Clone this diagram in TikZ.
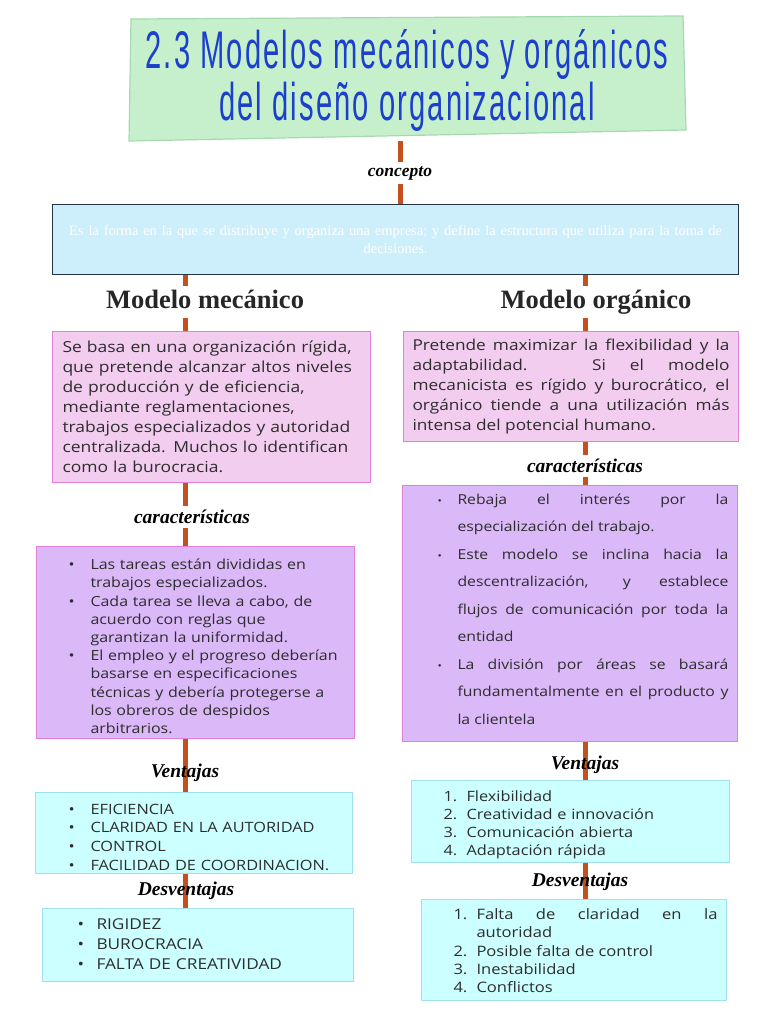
\documentclass[tikz,border=0pt]{standalone}
\usepackage{fontspec}
\usepackage{enumitem}
\setmainfont{Liberation Serif}
\newfontfamily\titlefont[FakeStretch=0.55,LetterSpace=4]{Liberation Sans}
\newfontfamily\bodyfont[FakeStretch=1.15]{Open Sans}
\definecolor{conn}{RGB}{196,80,30}
\definecolor{ttlfill}{RGB}{197,240,203}
\definecolor{ttledge}{RGB}{166,217,173}
\definecolor{ttltext}{RGB}{28,63,206}
\definecolor{cfill}{RGB}{205,238,251}
\definecolor{cedge}{RGB}{36,52,68}
\definecolor{pinkfill}{RGB}{242,205,240}
\definecolor{pinkedge}{RGB}{226,127,216}
\definecolor{purfill}{RGB}{219,184,248}
\definecolor{cyanfill}{RGB}{204,255,255}
\definecolor{cyanedge}{RGB}{159,223,240}
\definecolor{bodytext}{RGB}{45,45,45}
\tikzset{
  connline/.style={draw=conn, line width=5pt},
  box/.style={anchor=north west, inner xsep=10pt, inner ysep=0pt, line width=1pt,
     text=bodytext, font=\bodyfont\fontsize{15}{20}\selectfont},
  pinkbox/.style={box, fill=pinkfill, draw=pinkedge},
  purbox/.style={box, fill=purfill, draw=pinkedge},
  cyanbox/.style={box, fill=cyanfill, draw=cyanedge},
  heading/.style={font=\bfseries\fontsize{26.5}{26.5}\selectfont, text=black!85, fill=white,
     inner sep=4pt, text height=18pt, text depth=6pt},
  lbl/.style={font=\bfseries\itshape\fontsize{19.5}{19.5}\selectfont, text=black, inner sep=3pt},
  lblw/.style={lbl, fill=white, inner sep=4pt},
}
\begin{document}
\begin{tikzpicture}[x=1pt,y=-1pt]
\useasboundingbox (0,0) rectangle (768,1024);
% title box
\filldraw[fill=ttlfill, draw=ttledge, line width=1.2pt]
  (131,19) -- (683,16) -- (686,130) -- (129,141) -- cycle;
\node[minimum width=555pt, minimum height=122pt, inner sep=0pt, align=center,
      text=ttltext, font=\titlefont\fontsize{53}{52}\selectfont] (title) at (407,80)
  {2.3 Modelos mecánicos y orgánicos\\del diseño organizacional};
\coordinate (cx) at (400,0);
\coordinate (lx) at (185,0);
\coordinate (rx) at (585,0);
% concept
\node[lblw, font=\bfseries\itshape\fontsize{17.5}{17.5}\selectfont] (concepto) at (400,173) {concepto};
\node[anchor=north west, minimum width=686pt, minimum height=70pt, text width=670pt,
      inner xsep=8pt, inner ysep=0pt, align=center, fill=cfill, draw=cedge, line width=1.2pt,
      text=white, font=\fontsize{14.5}{18}\selectfont] (cbox) at (52,204)
  {Es la forma en la que se distribuye y organiza una empresa; y define la estructura que utiliza para la toma de\\decisiones.};
% headings
\node[heading] (mmec) at (205,302) {Modelo mecánico};
\node[heading] (morg) at (596,302) {Modelo orgánico};
% left column
\node[pinkbox, minimum width=318pt, minimum height=151pt, text width=298pt, align=left,
      font=\bodyfont\fontsize{15.2}{20}\selectfont] (lp) at (52,331)
  {Se basa en una organización rígida,\\que pretende alcanzar altos niveles\\de producción y de eficiencia,\\mediante reglamentaciones,\\trabajos especializados y autoridad\\centralizada. Muchos lo identifican\\como la burocracia.};
\node[lblw] (lcar) at (192,517) {características};
\node[purbox, minimum width=318pt, minimum height=192pt, text width=298pt, align=left,
      font=\bodyfont\fontsize{13.9}{18.2}\selectfont] (lpur) at (36,546)
  {\begin{itemize}[nosep, leftmargin=44pt, labelwidth=22pt, labelsep=0pt, align=left, label={\textbullet}]
   \item Las tareas están divididas en\\trabajos especializados.
   \item Cada tarea se lleva a cabo, de\\acuerdo con reglas que\\garantizan la uniformidad.
   \item El empleo y el progreso deberían\\basarse en especificaciones\\técnicas y debería protegerse a\\los obreros de despidos\\arbitrarios.
   \end{itemize}};
\node[cyanbox, minimum width=317pt, minimum height=81pt, text width=297pt, align=left,
      font=\bodyfont\fontsize{14.2}{18.7}\selectfont] (lvb) at (35,792)
  {\begin{itemize}[nosep, leftmargin=45pt, labelwidth=22pt, labelsep=0pt, align=left, label={\textbullet}]
   \item EFICIENCIA
   \item CLARIDAD EN LA AUTORIDAD
   \item CONTROL
   \item \mbox{FACILIDAD DE COORDINACION.}
   \end{itemize}};
\node[cyanbox, minimum width=311pt, minimum height=73pt, text width=291pt, align=left,
      font=\bodyfont\fontsize{15}{20}\selectfont] (ldb) at (42,908)
  {\begin{itemize}[nosep, leftmargin=44pt, labelwidth=19pt, labelsep=0pt, align=left, label={\textbullet}]
   \item RIGIDEZ
   \item BUROCRACIA
   \item FALTA DE CREATIVIDAD
   \end{itemize}\vspace*{10pt}};
% right column
\node[pinkbox, minimum width=335pt, minimum height=110pt, inner xsep=9pt, text width=317pt, align=justify,
      font=\bodyfont\fontsize{15}{20}\selectfont] (rp) at (403,331)
  {Pretende maximizar la flexibilidad y la\linebreak adaptabilidad. Si el modelo\linebreak mecanicista es rígido y burocrático, el\linebreak orgánico tiende a una utilización más\linebreak intensa del potencial humano.};
\node[lblw] (rcar) at (585,466) {características};
\node[purbox, minimum width=335pt, minimum height=256pt, inner xsep=9pt,
      font=\bodyfont\fontsize{13.7}{27.5}\selectfont] (rpur) at (402,485)
  {\parbox[c][240pt][t]{317pt}{\begin{itemize}[nosep, leftmargin=46pt, labelwidth=20pt, labelsep=0pt, align=left, label={\fontsize{10}{10}\selectfont\textbullet}]
   \item Rebaja el interés por la\linebreak especialización del trabajo.
   \item Este modelo se inclina hacia la\linebreak descentralización, y establece\linebreak flujos de comunicación por toda la\linebreak entidad
   \item La división por áreas se basará\linebreak fundamentalmente en el producto y\linebreak la clientela
   \end{itemize}}};
\node[cyanbox, minimum width=318pt, minimum height=82pt, inner xsep=9pt, text width=300pt, align=left,
      font=\bodyfont\fontsize{14.2}{18}\selectfont] (rvb) at (411,780)
  {\begin{enumerate}[nosep, leftmargin=46pt, labelwidth=23pt, labelsep=0pt, align=left, label={\arabic*.}]
   \item Flexibilidad
   \item Creatividad e innovación
   \item Comunicación abierta
   \item Adaptación rápida
   \end{enumerate}};
\node[cyanbox, minimum width=305pt, minimum height=101pt, inner xsep=9pt, text width=287pt, align=justify,
      font=\bodyfont\fontsize{14.4}{18.3}\selectfont] (rdb) at (421,899)
  {\begin{enumerate}[nosep, leftmargin=46pt, labelwidth=23pt, labelsep=0pt, align=left, label={\arabic*.}]
   \item Falta de claridad en la\linebreak autoridad
   \item Posible falta de control
   \item Inestabilidad
   \item Conflictos
   \end{enumerate}\vspace*{6pt}};
% connectors
\draw[connline] (title.south -| cx) -- (concepto.north -| cx);
\draw[connline] (concepto.south -| cx) -- (cbox.north -| cx);
\draw[connline] (cbox.south -| lx) -- (mmec.north -| lx);
\draw[connline] (mmec.south -| lx) -- (lp.north -| lx);
\draw[connline] (lp.south -| lx) -- (lcar.north -| lx);
\draw[connline] (lcar.south -| lx) -- (lpur.north -| lx);
\draw[connline] (lpur.south -| lx) -- (lvb.north -| lx);
\draw[connline] (lvb.south -| lx) -- (ldb.north -| lx);
\draw[connline] (cbox.south -| rx) -- (morg.north -| rx);
\draw[connline] (morg.south -| rx) -- (rp.north -| rx);
\draw[connline] (rp.south -| rx) -- (rcar.north -| rx);
\draw[connline] (rcar.south -| rx) -- (rpur.north -| rx);
\draw[connline] (rpur.south -| rx) -- (rvb.north -| rx);
\draw[connline] (rvb.south -| rx) -- (rdb.north -| rx);
% labels over lines
\node[lbl] (lven) at (185,773) {Ventajas};
\node[lbl] (ldes) at (186,891) {Desventajas};
\node[lbl] (rven) at (585,765) {Ventajas};
\node[lbl] (rdes) at (580,882) {Desventajas};
\end{tikzpicture}
\end{document}
